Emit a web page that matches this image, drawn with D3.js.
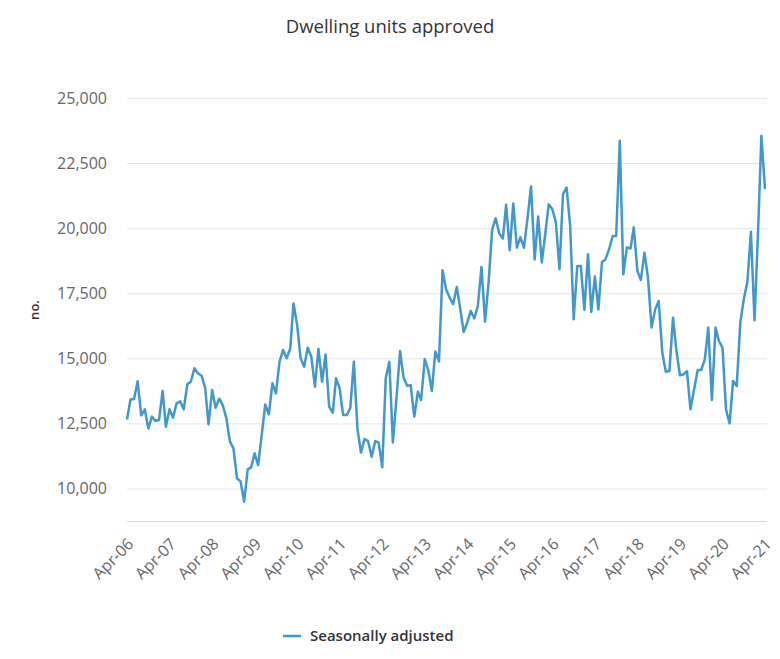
<!DOCTYPE html>
<html>
<head>
<meta charset="utf-8">
<script src="https://cdn.jsdelivr.net/npm/d3@7"></script>
<style>
  body { margin: 0; background: #fff; }
  svg text { font-family: "Open Sans", "Noto Sans", sans-serif; }
</style>
</head>
<body>
<div id="chart"></div>
<script>
// monthly series, Apr-06 .. Apr-21
var firstMonth = new Date(2006, 3, 1);
var seasonallyAdjusted = [
    12650, 13420, 13440, 14120, 12810, 13040, 12300, 12760, 12590, 12630, 13740, 12375,
    13040, 12720, 13270, 13350, 13040, 14000, 14100, 14620, 14420, 14340, 13870, 12460,
    13780, 13100, 13450, 13200, 12700, 11800, 11540, 10380, 10280, 9490, 10740, 10800,
    11350, 10900, 12050, 13230, 12850, 14040, 13650, 14870, 15320, 15000, 15380, 17110,
    16280, 15000, 14680, 15410, 15060, 13910, 15360, 14100, 15150, 13140, 12910, 14230,
    13850, 12820, 12820, 13080, 14870, 12300, 11380, 11900, 11820, 11220, 11820, 11770,
    10810, 14230, 14870, 11770, 13460, 15280, 14260, 13950, 13970, 12760, 13720, 13400,
    14970, 14550, 13740, 15260, 14880, 18380, 17650, 17330, 17080, 17740, 16880, 16010,
    16370, 16820, 16530, 17010, 18510, 16410, 17900, 19950, 20380, 19800, 19600, 20900,
    19150, 20950, 19250, 19650, 19250, 20400, 21600, 18800, 20450, 18680, 19830, 20920,
    20730, 20220, 18420, 21300, 21560, 20090, 16500, 18550, 18550, 16860, 19000, 16780,
    18140, 16880, 18700, 18800, 19190, 19700, 19700, 23360, 18230, 19260, 19220, 20030,
    18360, 18010, 19060, 18100, 16180, 16880, 17200, 15220, 14480, 14510, 16560, 15350,
    14350, 14380, 14510, 13040, 13800, 14550, 14550, 14960, 16180, 13400, 16180, 15670,
    15410, 13040, 12500, 14130, 13940, 16370, 17270, 17940, 19860, 16460, 19960, 23550,
    21500
];
var xTickLabels = ["Apr-06", "Apr-07", "Apr-08", "Apr-09", "Apr-10", "Apr-11", "Apr-12", "Apr-13",
    "Apr-14", "Apr-15", "Apr-16", "Apr-17", "Apr-18", "Apr-19", "Apr-20", "Apr-21"];
var yTicks = [10000, 12500, 15000, 17500, 20000, 22500, 25000];

var width = 780, height = 659;
var lineColor = "#4397c9";

var svg = d3.select("#chart").append("svg")
    .attr("width", width)
    .attr("height", height);

var points = seasonallyAdjusted.map(function (v, i) {
    return { date: d3.timeMonth.offset(firstMonth, i), value: v };
});

var x = d3.scaleTime()
    .domain([firstMonth, d3.timeMonth.offset(firstMonth, seasonallyAdjusted.length - 1)])
    .range([127, 765]);

var y = d3.scaleLinear()
    .domain([8750, 25000])
    .range([521, 98]);

// title
svg.append("text")
    .attr("x", 390)
    .attr("y", 33)
    .attr("text-anchor", "middle")
    .style("font-size", "18.5px")
    .style("fill", "#333")
    .text("Dwelling units approved");

// grid + y labels
var yAxis = d3.axisLeft(y)
    .tickValues(yTicks)
    .tickSize(-640)
    .tickPadding(20)
    .tickFormat(d3.format(","));

var gy = svg.append("g")
    .attr("transform", "translate(127,0)")
    .call(yAxis);
gy.select(".domain").remove();
gy.selectAll(".tick line").attr("stroke", "#e6e6e6");
gy.selectAll(".tick text")
    .style("font-size", "16px")
    .style("fill", "#666");

svg.append("text")
    .attr("transform", "translate(39,310) rotate(-90)")
    .attr("text-anchor", "middle")
    .style("font-size", "13px")
    .style("font-weight", "600")
    .style("fill", "#333")
    .text("no.");

// x axis
var tickDates = xTickLabels.map(function (d, i) { return d3.timeMonth.offset(firstMonth, i * 12); });
var xAxis = d3.axisBottom(x)
    .tickValues(tickDates)
    .tickSize(0)
    .tickFormat(function (d, i) { return xTickLabels[i]; });

var gx = svg.append("g")
    .attr("transform", "translate(0,521)")
    .call(xAxis);
gx.select(".domain")
    .attr("stroke", "#ccd6eb")
    .attr("d", "M127,0.5H767");
gx.selectAll(".tick text")
    .attr("text-anchor", "end")
    .attr("dy", "0.35em")
    .attr("transform", "translate(1,18) rotate(-45)")
    .style("font-size", "16px")
    .style("fill", "#666");

// the line
var line = d3.line()
    .x(function (d) { return x(d.date); })
    .y(function (d) { return y(d.value); });

svg.append("path")
    .datum(points)
    .attr("fill", "none")
    .attr("stroke", lineColor)
    .attr("stroke-width", 2.5)
    .attr("stroke-linejoin", "round")
    .attr("d", line);

// legend
var legend = svg.append("g").attr("transform", "translate(283,636)");
legend.append("line")
    .attr("x1", 0).attr("x2", 18)
    .attr("stroke", lineColor)
    .attr("stroke-width", 2.5);
legend.append("text")
    .attr("x", 27)
    .attr("y", 5)
    .style("font-size", "15px")
    .style("font-weight", "600")
    .style("fill", "#333")
    .text("Seasonally adjusted");
</script>
</body>
</html>
